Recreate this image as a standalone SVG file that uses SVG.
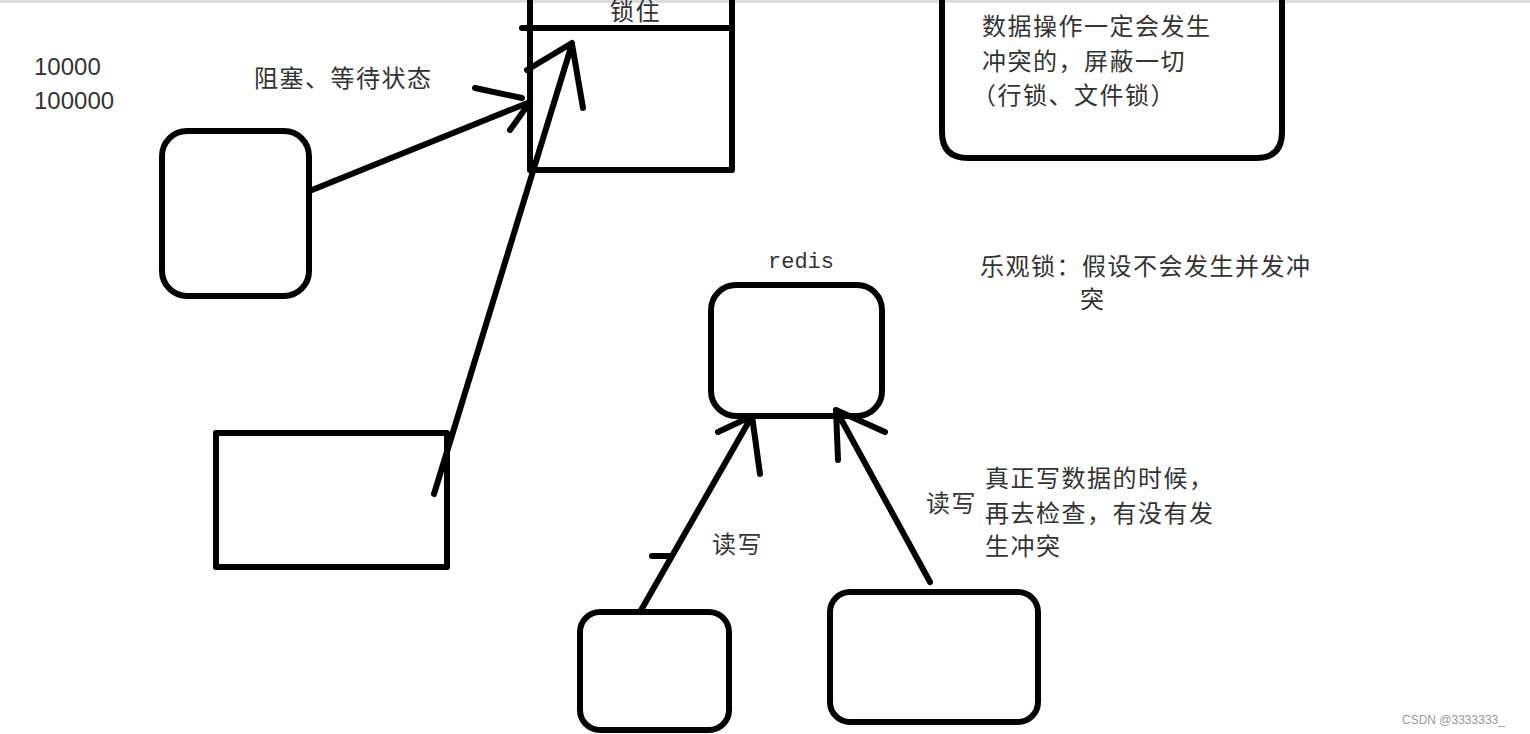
<svg xmlns="http://www.w3.org/2000/svg" width="1530" height="734" viewBox="0 0 1530 734">
<style>
.s{fill:none;stroke:#000;stroke-width:6;stroke-linecap:round;stroke-linejoin:round}
.t{font-family:"Liberation Serif","Noto Sans CJK SC",serif;font-size:24px;letter-spacing:1.5px;fill:#333}
.n{font-family:"Liberation Sans",sans-serif;font-size:24px;fill:#333}
</style>
<rect width="1530" height="734" fill="#fff"/>
<line x1="0" y1="1.5" x2="1530" y2="1.5" stroke="#ddd" stroke-width="3"/>
<text class="n" x="34" y="75">10000</text>
<text class="n" x="34" y="109">100000</text>
<text class="t" x="254" y="87">阻塞、等待状态</text>
<g id="client1"><rect class="s" x="162" y="131" width="147" height="165" rx="25"/></g>
<g id="lock"><path class="s" d="M530 0V170H732V0M522 28H728"/><text class="t" x="610" y="20">锁住</text></g>
<g id="client2"><rect class="s" x="216" y="433" width="231" height="134"/></g>
<g id="opt"><path class="s" d="M942 0V132Q942 158 968 158H1256Q1282 158 1282 132V0"/>
<text class="t" x="982" y="35">数据操作一定会发生</text>
<text class="t" x="982" y="70">冲突的，屏蔽一切</text>
<text class="t" x="972" y="104">（行锁、文件锁）</text></g>
<text class="t" x="980" y="275">乐观锁：假设不会发生并发冲</text>
<text class="t" x="1080" y="308">突</text>
<g id="redis"><text x="768" y="268" style="font-family:'Liberation Mono',monospace;font-size:22px;fill:#333">redis</text>
<rect class="s" x="711" y="285" width="171" height="131" rx="25"/></g>
<g id="c3"><rect class="s" x="580" y="612" width="149" height="118" rx="20"/></g>
<g id="c4"><rect class="s" x="830" y="592" width="208" height="130" rx="20"/></g>
<g id="connectors">
<path class="s" d="M312 190L530 102M475 88L522 98M510 130L530 102"/>
<path class="s" d="M527 70L572 43M434 494L572 44L583 108"/>
<path class="s" d="M640 612L752 416M718 432L752 416L760 474M652 556L670 556"/>
<path class="s" d="M930 582L836 410L885 432M836 410L838 460"/>
</g>
<text class="t" x="712" y="553">读写</text>
<text class="t" x="926" y="512">读写</text>
<text class="t" x="985" y="487">真正写数据的时候，</text>
<text class="t" x="985" y="522">再去检查，有没有发</text>
<text class="t" x="985" y="555">生冲突</text>
<text x="1402" y="724" style="font-family:'Liberation Sans',sans-serif;font-size:12px;fill:#999">CSDN @3333333_</text>
</svg>
